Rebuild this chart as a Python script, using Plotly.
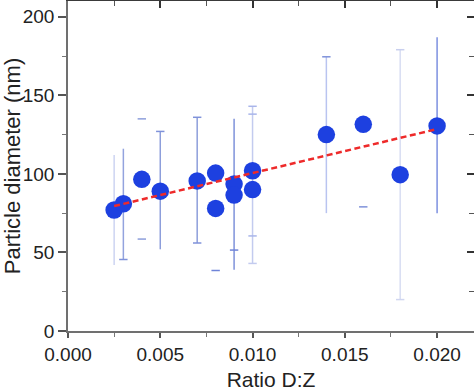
import plotly.graph_objects as go

# Data points (Ratio D:Z vs particle diameter)
ratio = [0.0025, 0.003, 0.004, 0.005, 0.007, 0.008, 0.008, 0.009, 0.009,
         0.010, 0.010, 0.014, 0.016, 0.018, 0.020]
diameter = [77, 81, 96.5, 89, 95.5, 100.5, 78, 93.5, 86.5,
            102, 90, 125, 131.5, 99.5, 130.5]

# Error bar segments
err_x = [0.0025, 0.003, 0.005, 0.007, 0.009, 0.010, 0.014, 0.018, 0.020]
err_low = [42, 45.5, 52, 56, 39, 43, 75, 20, 75]
err_high = [112, 116, 127, 136, 135, 143, 174.5, 179, 187]
err_color = ["#cdd4f2", "#93a3de", "#8d9edb", "#8d9edb", "#7f92da",
             "#c3cbef", "#b9c4f0", "#d8ddf3", "#7d90e0"]

# Error bar caps
cap_x = [0.003, 0.004, 0.004, 0.005, 0.007, 0.007, 0.008, 0.009,
         0.010, 0.010, 0.010, 0.010, 0.014, 0.016, 0.018, 0.018]
cap_y = [45.5, 135, 58.5, 127, 136, 56, 38.5, 51.5,
         143, 138, 60.5, 43, 174.5, 79, 179, 20]
cap_color = ["#7f92da", "#8d9edb", "#8d9edb", "#7f92da", "#7f92da", "#7f92da",
             "#6f84d8", "#6f84d8", "#a9b5ea", "#a9b5ea", "#a9b5ea", "#c3cbef",
             "#7f92da", "#7f92da", "#c8cfee", "#d0d6f0"]

# Linear fit endpoints
fit_x = [0.0025, 0.020]
fit_y = [79.5, 128.5]

x_ticks = [0.000, 0.005, 0.010, 0.015, 0.020]
x_ticklabels = ["0.000", "0.005", "0.010", "0.015", "0.020"]
y_ticks = [0, 50, 100, 150, 200]
y_ticklabels = ["0", "50", "100", "150", "200"]

fig = go.Figure()

for xv, lo, hi, col in zip(err_x, err_low, err_high, err_color):
    fig.add_trace(go.Scatter(x=[xv, xv], y=[lo, hi], mode="lines",
                             line=dict(color=col, width=1.5),
                             showlegend=False, hoverinfo="skip"))

fig.add_trace(go.Scatter(x=cap_x, y=cap_y, mode="markers",
                         marker=dict(symbol="line-ew", size=6,
                                     line=dict(color=cap_color, width=1.5)),
                         showlegend=False, hoverinfo="skip"))

fig.add_trace(go.Scatter(x=ratio, y=diameter, mode="markers",
                         marker=dict(color="#1d40e0", size=17.5,
                                     line=dict(width=0)),
                         showlegend=False))

fig.add_trace(go.Scatter(x=fit_x, y=fit_y, mode="lines",
                         line=dict(color="#ee2a2a", width=2.5, dash="6px,3.5px"),
                         showlegend=False))

# invisible trace for the mirror axes
fig.add_trace(go.Scatter(x=[0.01], y=[100], xaxis="x2", yaxis="y2",
                         mode="markers", marker=dict(opacity=0),
                         showlegend=False, hoverinfo="skip"))

font_family = "Liberation Sans, Arial, sans-serif"

fig.update_layout(
    width=474, height=391,
    margin=dict(l=68, r=0, t=1, b=60),
    paper_bgcolor="white", plot_bgcolor="white",
    font=dict(family=font_family, color="#222222"),
    xaxis=dict(range=[0, 0.022], tickvals=x_ticks, ticktext=x_ticklabels,
               automargin=False,
               ticks="outside", ticklen=5, tickwidth=1.5, tickcolor="#555555",
               minor=dict(dtick=0.0025, tick0=0, ticks="outside", ticklen=4,
                          tickwidth=1, tickcolor="#777777"),
               showline=True, linecolor="#707070", linewidth=1.5,
               showgrid=False, zeroline=False,
               tickfont=dict(size=19, color="#222222"),
               title=dict(text="Ratio D:Z", font=dict(size=21, color="#222222"),
                          standoff=19)),
    yaxis=dict(range=[0, 210], tickvals=y_ticks, ticktext=y_ticklabels,
               automargin=False,
               ticks="outside", ticklen=8, tickwidth=1.5, tickcolor="#555555",
               minor=dict(dtick=25, tick0=0, ticks="outside", ticklen=4,
                          tickwidth=1, tickcolor="#777777"),
               showline=True, linecolor="#707070", linewidth=1.5,
               showgrid=False, zeroline=False,
               tickfont=dict(size=19, color="#222222"),
               title=dict(text="Particle diameter (nm)",
                          font=dict(size=22, color="#222222"), standoff=1)),
    xaxis2=dict(overlaying="x", side="top", range=[0, 0.022],
                tickvals=x_ticks, showticklabels=False, automargin=False,
                ticks="inside", ticklen=7, tickwidth=1.5, tickcolor="#333333",
                minor=dict(dtick=0.0025, tick0=0, ticks="inside", ticklen=5,
                           tickwidth=1, tickcolor="#555555"),
                showline=True, linecolor="#3a3a3a", linewidth=2,
                showgrid=False, zeroline=False),
    yaxis2=dict(overlaying="y", side="right", range=[0, 210],
                tickvals=y_ticks, showticklabels=False, automargin=False,
                ticks="inside", ticklen=7, tickwidth=1.5, tickcolor="#333333",
                minor=dict(dtick=25, tick0=0, ticks="inside", ticklen=5,
                           tickwidth=1, tickcolor="#555555"),
                showline=False,
                showgrid=False, zeroline=False),
)

fig.write_html("out.html",
               config={"displayModeBar": False},
               post_script="document.body.style.margin='0';"
                           "document.body.style.overflow='hidden';")
